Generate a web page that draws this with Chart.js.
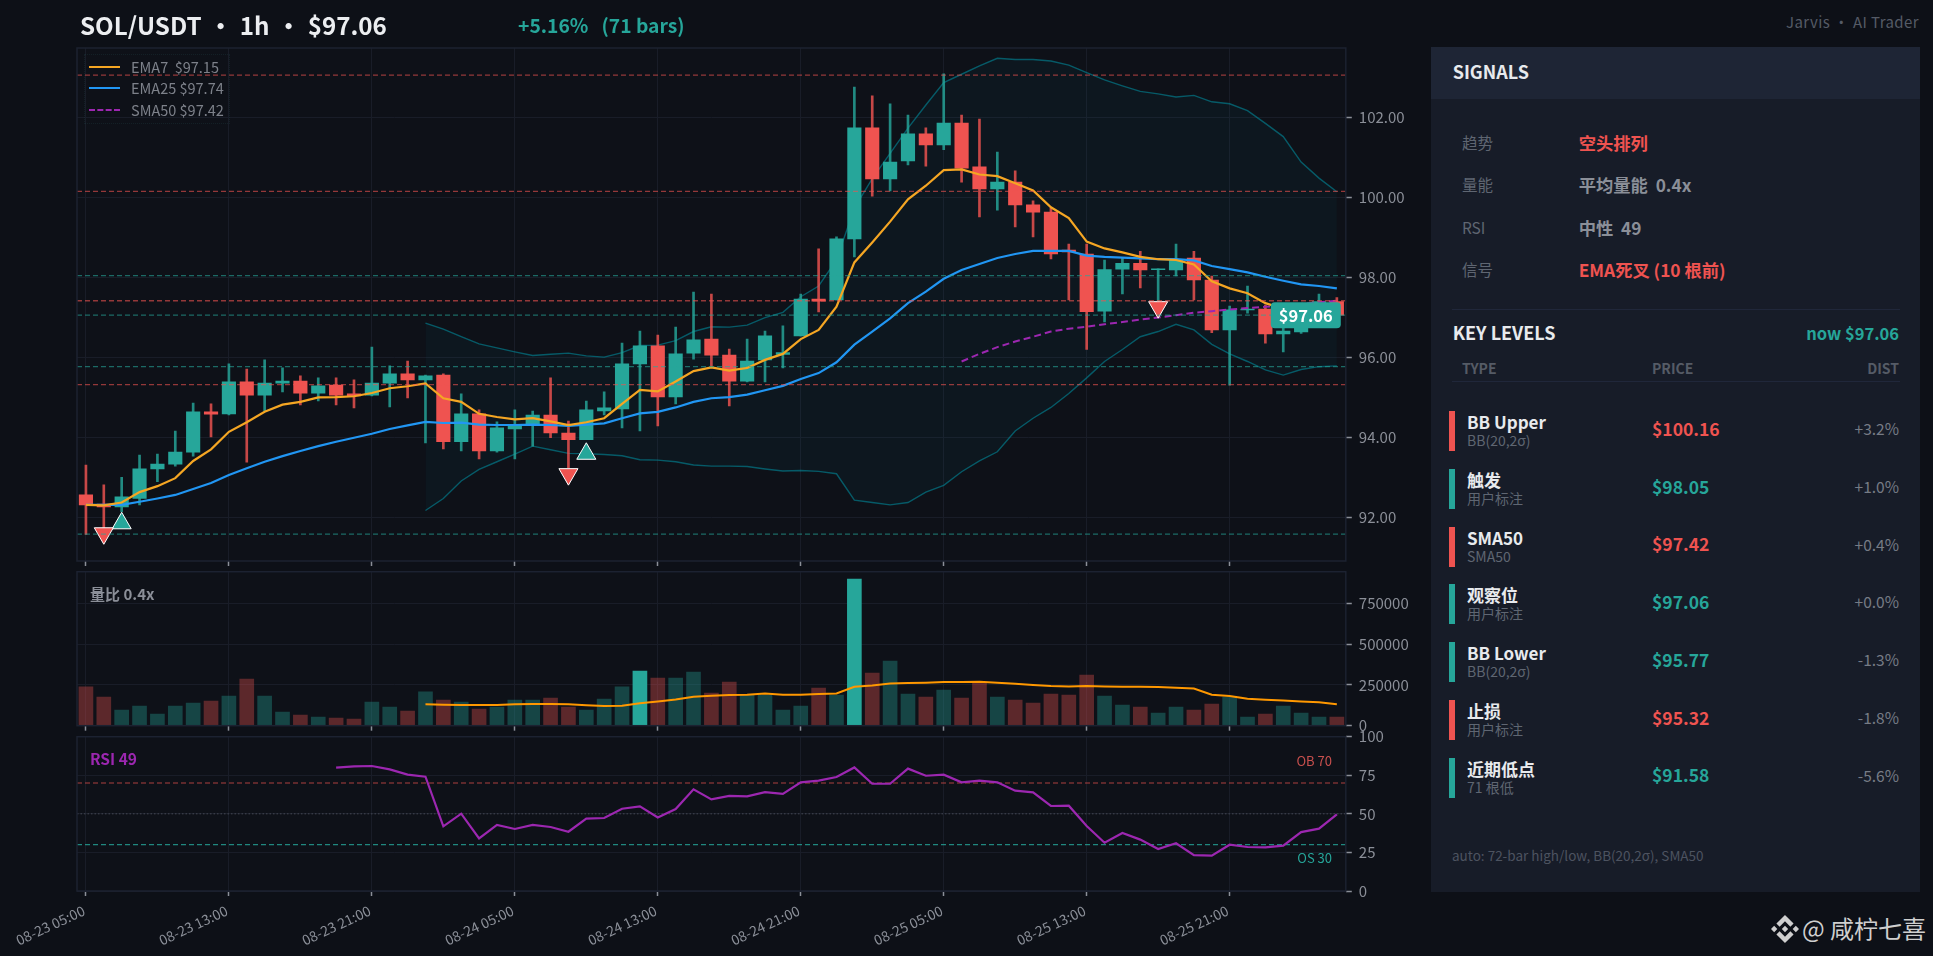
<!DOCTYPE html>
<html><head><meta charset="utf-8">
<script src="https://cdn.jsdelivr.net/npm/chart.js@4/dist/chart.umd.min.js"></script>
<style>
html,body{margin:0;padding:0;background:#0d1017;width:1933px;height:956px;overflow:hidden;font-family:"Noto Sans CJK SC","Noto Sans",sans-serif}
canvas{position:absolute;left:0}
.t{position:absolute;white-space:pre;line-height:1;transform:translateY(-50%)}
.r{transform:translate(-100%,-50%)}
#panel{position:absolute;left:1431px;top:47px;width:489px;height:845px;background:#171c28}
#phead{position:absolute;left:1431px;top:47px;width:489px;height:52px;background:#1e2535}
.bar{position:absolute;left:1449px;width:6px}
.hr{position:absolute;left:1452px;width:448px;height:1px;background:#20273a}
</style></head><body>
<canvas id="c1" width="1420" height="568" style="top:0"></canvas>
<canvas id="c2" width="1420" height="165" style="top:566px"></canvas>
<canvas id="c3" width="1420" height="225" style="top:731px"></canvas>
<div id="panel"></div><div id="phead"></div><div id="ov"></div>
<script>
const categories=["08-23 05:00","08-23 06:00","08-23 07:00","08-23 08:00","08-23 09:00","08-23 10:00","08-23 11:00","08-23 12:00","08-23 13:00","08-23 14:00","08-23 15:00","08-23 16:00","08-23 17:00","08-23 18:00","08-23 19:00","08-23 20:00","08-23 21:00","08-23 22:00","08-23 23:00","08-24 00:00","08-24 01:00","08-24 02:00","08-24 03:00","08-24 04:00","08-24 05:00","08-24 06:00","08-24 07:00","08-24 08:00","08-24 09:00","08-24 10:00","08-24 11:00","08-24 12:00","08-24 13:00","08-24 14:00","08-24 15:00","08-24 16:00","08-24 17:00","08-24 18:00","08-24 19:00","08-24 20:00","08-24 21:00","08-24 22:00","08-24 23:00","08-25 00:00","08-25 01:00","08-25 02:00","08-25 03:00","08-25 04:00","08-25 05:00","08-25 06:00","08-25 07:00","08-25 08:00","08-25 09:00","08-25 10:00","08-25 11:00","08-25 12:00","08-25 13:00","08-25 14:00","08-25 15:00","08-25 16:00","08-25 17:00","08-25 18:00","08-25 19:00","08-25 20:00","08-25 21:00","08-25 22:00","08-25 23:00","08-26 00:00","08-26 01:00","08-26 02:00","08-26 03:00"];
const opens=[92.56,92.33,92.26,92.47,93.21,93.33,93.63,94.64,94.59,95.39,95.06,95.36,95.41,95.11,95.31,95.09,95.06,95.36,95.59,95.44,95.56,93.89,94.59,93.66,94.21,94.31,94.56,94.11,93.94,94.66,94.71,95.84,96.29,95.01,96.11,96.46,96.06,95.41,95.94,96.08,96.54,97.46,97.44,98.97,101.75,100.47,100.92,101.6,101.32,101.87,100.77,100.22,100.39,99.82,99.64,98.69,98.59,97.16,98.21,98.36,98.2,98.19,98.49,97.94,96.69,97.19,97.21,96.59,96.64,97.0,97.4];
const highs=[93.31,92.81,93.0,93.56,93.58,94.16,94.86,94.84,95.84,95.71,95.94,95.74,95.54,95.49,95.49,95.44,96.26,95.79,95.91,95.56,95.59,95.09,94.69,94.39,94.69,94.66,95.49,94.41,94.91,95.14,96.36,96.66,96.56,96.76,97.64,97.59,96.21,96.46,96.66,96.79,97.59,98.72,99.02,102.77,102.55,102.35,102.07,101.75,103.1,102.07,101.97,101.14,100.67,99.92,99.74,98.84,98.84,98.44,98.49,98.66,98.22,98.84,98.66,98.04,97.29,97.79,97.31,97.1,97.1,97.59,97.5];
const lows=[91.57,91.7,92.14,92.31,92.89,93.28,93.53,94.01,94.56,93.38,94.66,95.14,94.81,94.91,94.81,94.74,95.04,94.76,94.99,93.86,93.71,93.66,93.46,93.63,93.46,93.78,93.99,93.24,93.94,94.56,94.24,94.16,94.29,94.84,95.96,95.79,94.79,95.39,95.39,95.74,96.54,97.14,97.44,98.52,100.04,100.17,100.82,100.79,101.2,100.39,99.52,99.69,99.27,99.02,98.47,97.44,96.2,96.89,97.59,97.74,97.4,98.04,97.44,96.62,95.31,97.11,96.36,96.14,96.6,96.9,96.95];
const closes=[92.31,92.26,92.51,93.21,93.33,93.63,94.64,94.58,95.39,95.06,95.36,95.41,95.11,95.29,95.06,95.04,95.36,95.59,95.44,95.54,93.89,94.59,93.66,94.24,94.31,94.56,94.11,93.94,94.69,94.74,95.84,96.29,95.01,96.09,96.44,96.06,95.41,95.91,96.54,96.12,97.46,97.41,98.97,101.75,100.47,100.89,101.6,101.32,101.87,100.74,100.22,100.39,99.82,99.64,98.59,98.64,97.15,98.2,98.36,98.19,98.22,98.46,97.94,96.69,97.19,97.21,96.59,96.66,97.0,97.4,97.06];
const ema7=[92.31,92.3,92.37,92.63,92.78,92.98,93.41,93.7,94.14,94.38,94.64,94.82,94.89,95.0,95.01,95.03,95.11,95.23,95.28,95.35,94.98,94.89,94.59,94.51,94.45,94.48,94.4,94.31,94.38,94.48,94.84,95.19,95.15,95.4,95.66,95.75,95.67,95.74,95.94,96.09,96.46,96.69,97.27,98.38,98.88,99.4,99.96,100.3,100.69,100.71,100.58,100.54,100.36,100.18,99.76,99.49,98.9,98.73,98.63,98.52,98.46,98.44,98.33,97.91,97.73,97.61,97.36,97.22,97.16,97.18,97.15];
const ema25=[92.31,92.31,92.31,92.39,92.47,92.56,92.71,92.86,93.06,93.23,93.39,93.53,93.66,93.78,93.89,93.99,94.09,94.21,94.3,94.39,94.36,94.37,94.32,94.31,94.31,94.32,94.31,94.29,94.32,94.35,94.48,94.6,94.64,94.75,94.89,94.98,95.01,95.07,95.18,95.29,95.46,95.61,95.88,96.32,96.65,96.98,97.36,97.65,97.97,98.19,98.34,98.49,98.59,98.67,98.67,98.67,98.55,98.52,98.5,98.48,98.46,98.46,98.43,98.29,98.21,98.13,98.02,97.92,97.83,97.79,97.73];
const sma50=[null,null,null,null,null,null,null,null,null,null,null,null,null,null,null,null,null,null,null,null,null,null,null,null,null,null,null,null,null,null,null,null,null,null,null,null,null,null,null,null,null,null,null,null,null,null,null,null,null,95.9,96.09,96.26,96.4,96.52,96.65,96.72,96.77,96.83,96.89,96.95,97.0,97.06,97.12,97.16,97.2,97.24,97.27,97.3,97.34,97.38,97.42];
const bbUpper=[null,null,null,null,null,null,null,null,null,null,null,null,null,null,null,null,null,null,null,96.86,96.71,96.52,96.34,96.24,96.14,96.05,96.08,96.11,96.04,96.01,96.12,96.3,96.31,96.42,96.65,96.77,96.76,96.81,97.0,97.13,97.52,97.79,98.44,99.74,100.48,101.11,101.74,102.32,102.88,103.09,103.3,103.49,103.46,103.46,103.42,103.32,103.13,102.95,102.8,102.66,102.6,102.52,102.56,102.4,102.35,102.18,101.86,101.53,100.89,100.49,100.15];
const bbLower=[null,null,null,null,null,null,null,null,null,null,null,null,null,null,null,null,null,null,null,92.17,92.47,92.91,93.2,93.39,93.58,93.78,93.69,93.6,93.59,93.57,93.54,93.44,93.43,93.39,93.31,93.28,93.28,93.27,93.21,93.16,93.17,93.15,93.09,92.43,92.37,92.31,92.37,92.63,92.8,93.14,93.41,93.64,94.16,94.48,94.75,95.1,95.49,95.9,96.2,96.52,96.65,96.83,96.69,96.33,96.09,95.9,95.69,95.56,95.7,95.77,95.79];
const volumes=[238000,176000,96000,121000,71000,121000,139000,151000,182000,286000,182000,84000,65000,53000,47000,41000,145000,114000,90000,207000,157000,145000,102000,114000,157000,157000,170000,114000,96000,163000,238000,335000,292000,292000,329000,200000,268000,188000,188000,96000,121000,231000,188000,899000,322000,396000,194000,176000,219000,170000,268000,176000,157000,139000,194000,188000,311000,182000,127000,114000,78000,114000,96000,133000,176000,53000,71000,121000,78000,53000,53000];
const volMA=[null,null,null,null,null,null,null,null,null,null,null,null,null,null,null,null,null,null,null,131000,129000,127000,127000,127000,131000,133000,133000,131000,125000,121000,123000,137000,149000,161000,178000,184000,188000,190000,198000,190000,190000,194000,198000,239000,247000,259000,261000,264000,268000,268000,270000,264000,257000,249000,243000,241000,243000,241000,239000,239000,237000,233000,228000,190000,182000,165000,159000,155000,149000,143000,131000];
const rsi=[null,null,null,null,null,null,null,null,null,null,null,null,null,null,79.9,80.8,81,78.8,75.4,74.1,41.9,50.1,34.1,42.8,40.2,42.8,41.5,38.4,46.9,47.3,53.3,54.9,47.7,53.1,65.9,59.4,61.6,61.3,64.1,62.9,70.4,71.5,73.9,80.1,69.5,69.5,79.3,74.7,75.4,70.4,71.5,70.4,65,63.9,55.1,55.3,42.1,31.3,37.6,33.3,27.2,30.9,23.3,22.9,30,28.5,28.3,29.4,38.2,40.4,49.7];
const spikeBars=[31,43];
const sellIdx=[1,27,60], sellVal=[91.6,93.08,97.26];
const buyIdx=[2,28], buyVal=[91.85,93.59];
const priceLevels=[103.07,100.16,98.05,97.42,97.06,95.77,95.32,91.58];
const levelKinds=["r","r","g","r","g","g","r","g"];
const lastPrice=97.06;
const priceTicks=[92,94,96,98,100,102];
const volTicks=[0,250000,500000,750000];
const rsiTicks=[0,25,50,75,100];

const RED="#ef5350",GRN="#26a69a",GRID="#191d28",BOX="#1c2231",TICK="#8b8f98",TXT="#8b8f98";
const FONT='"Noto Sans CJK SC","Noto Sans",sans-serif';
const rgba=(c,a)=>c===RED?`rgba(239,83,80,${a})`:`rgba(38,166,154,${a})`;
const isUp=i=>closes[i]>=opens[i];
const RIGHT=1345.8, WID=1420;

const sparse=(idx,val)=>categories.map((_,i)=>{const k=idx.indexOf(i);return k<0?null:val[k]});

function xAxis(h,showLabels){return{
  type:'category',offset:true,
  afterBuildTicks(s){s.ticks=s.ticks.filter(t=>t.value%8===0)},
  afterFit(s){s.height=h;s.paddingLeft=0;s.paddingRight=0},
  grid:{color:GRID,lineWidth:1,tickColor:TICK,tickLength:5,tickWidth:1.5,offset:false,drawTicks:true},
  border:{display:false},
  ticks:{display:showLabels,autoSkip:false,minRotation:25,maxRotation:25,padding:6,labelOffset:-2,color:TXT,font:{family:FONT,size:14}}
}}
function yAxis(min,max,tickVals,fmt){return{
  position:'right',min,max,
  afterBuildTicks(s){s.ticks=tickVals.map(v=>({value:v}))},
  afterFit(s){s.width=WID-RIGHT;s.paddingTop=0;s.paddingBottom=0},
  grid:{color:GRID,lineWidth:1,tickColor:TICK,tickLength:6,tickWidth:1.5},
  border:{display:false},
  ticks:{padding:7,color:TXT,font:{family:FONT,size:15},callback:fmt}
}}
const boxPlugin={id:'box',beforeDraw(ch){const a=ch.chartArea,c=ch.ctx;c.save();c.fillStyle='#0e1118';c.fillRect(a.left,a.top,a.width,a.height);c.restore()},
  afterDraw(ch){const a=ch.chartArea,c=ch.ctx;c.save();c.strokeStyle=BOX;c.lineWidth=1.5;c.strokeRect(a.left,a.top,a.width,a.height);c.restore()}};
function hline(ch,v,color,dash,w){const a=ch.chartArea,c=ch.ctx,y=ch.scales.y.getPixelForValue(v);c.save();c.strokeStyle=color;c.lineWidth=w||1.2;c.setLineDash(dash);c.beginPath();c.moveTo(a.left,y);c.lineTo(a.right,y);c.stroke();c.restore()}
const base={responsive:false,animation:false,devicePixelRatio:1,events:[],datasets:{bar:{grouped:false}},
  plugins:{legend:{display:false},tooltip:{enabled:false}}};
const ln=(data,color,w,extra)=>Object.assign({type:'line',data,borderColor:color,borderWidth:w,pointRadius:0,tension:0,fill:false,spanGaps:false},extra||{});

new Chart(document.getElementById('c1'),{type:'bar',
 data:{labels:categories,datasets:[
  ln(bbUpper,'rgba(0,150,167,0.55)',1.4,{order:20,fill:'+1',backgroundColor:'rgba(0,188,212,0.04)'}),
  ln(bbLower,'rgba(0,150,167,0.55)',1.4,{order:20}),
  {data:categories.map((_,i)=>[lows[i],highs[i]]),backgroundColor:categories.map((_,i)=>rgba(isUp(i)?GRN:RED,.82)),barThickness:2,order:15},
  {data:categories.map((_,i)=>[opens[i],closes[i]]),backgroundColor:categories.map((_,i)=>isUp(i)?GRN:RED),barThickness:13.5,order:14},
  ln(sma50,'#9c27b0',2,{order:8,borderDash:[7,4]}),
  ln(ema25,'#2196f3',2.2,{order:7}),
  ln(ema7,'#f5a623',2.2,{order:6}),
  {type:'line',data:sparse(sellIdx,sellVal),showLine:false,pointStyle:'triangle',pointRotation:180,pointRadius:11,pointBackgroundColor:RED,pointBorderColor:'#fff',pointBorderWidth:1,order:2},
  {type:'line',data:sparse(buyIdx,buyVal),showLine:false,pointStyle:'triangle',pointRadius:11,pointBackgroundColor:GRN,pointBorderColor:'#fff',pointBorderWidth:1,order:2}
 ]},
 options:Object.assign({},base,{layout:{autoPadding:false,padding:{left:77,top:48,right:0,bottom:0}},
  scales:{x:xAxis(7,false),y:yAxis(90.906,103.747,priceTicks,v=>v.toFixed(2))}}),
 plugins:[boxPlugin,{id:'lv',afterDatasetsDraw(ch){
   priceLevels.forEach((v,i)=>hline(ch,v,rgba(levelKinds[i]==='r'?RED:GRN,.6),[5,3],1.3));
   const a=ch.chartArea,c=ch.ctx,y=ch.scales.y.getPixelForValue(lastPrice),w=70,h=26,x=a.right-5-w;
   c.save();c.fillStyle=GRN;c.beginPath();c.roundRect(x,y-h/2,w,h,4);c.fill();
   c.fillStyle='#fff';c.font='600 16.5px '+FONT;c.textAlign='center';c.textBaseline='middle';c.fillText('$'+lastPrice.toFixed(2),x+w/2,y+.5);c.restore();
 }}]
});
new Chart(document.getElementById('c2'),{type:'bar',
 data:{labels:categories,datasets:[
  {data:volumes,backgroundColor:categories.map((_,i)=>spikeBars.includes(i)?rgba(GRN,1):rgba(isUp(i)?GRN:RED,.35)),barThickness:14,order:5},
  ln(volMA,'#ff9800',2,{order:1})
 ]},
 options:Object.assign({},base,{layout:{autoPadding:false,padding:{left:77,top:5.7,right:0,bottom:0}},
  scales:{x:xAxis(5.3,false),y:yAxis(0,944000,volTicks,v=>String(v))}}),
 plugins:[boxPlugin]
});
new Chart(document.getElementById('c3'),{type:'line',
 data:{labels:categories,datasets:[ln(rsi,'#9c27b0',2.2)]},
 options:Object.assign({},base,{layout:{autoPadding:false,padding:{left:77,top:5.7,right:0,bottom:0}},
  scales:{x:xAxis(65,true),y:yAxis(0,100,rsiTicks,v=>String(v))}}),
 plugins:[boxPlugin,{id:'rl',beforeDatasetsDraw(ch){
   hline(ch,70,rgba(RED,.7),[5,3],1.2);hline(ch,30,rgba(GRN,.8),[5,3],1.2);hline(ch,50,'rgba(139,143,152,.4)',[1.5,2],1);
 }}]
});

/* overlay text */
const ov=document.getElementById('ov');
function T(s,x,y,size,color,weight,right){const d=document.createElement('div');d.className='t'+(right?' r':'');d.textContent=s;
 d.style.cssText=`left:${x}px;top:${y}px;font-size:${size}px;color:${color};font-weight:${weight||400}`;ov.appendChild(d);return d}
function box(cls,x,y,w,h,bg){const d=document.createElement('div');d.className=cls;d.style.cssText=`${x!=null?'left:'+x+'px;':''}top:${y}px;${w?'width:'+w+'px;':''}height:${h}px;${bg?'background:'+bg:''}`;ov.appendChild(d)}
T('SOL/USDT · 1h · $97.06',80,25,24.2,'#eceef1',700).style.wordSpacing='1.5px';
T('+5.16%   (71 bars)',518,25.5,19.3,'#26a69a',700);
T('Jarvis · AI Trader',1919,21,15,'#555b66',400,true).style.letterSpacing='.4px';
/* legend */
const lg=document.createElement('div');lg.style.cssText='position:absolute;left:84px;top:54px;width:146px;height:70px;border:1px dotted rgba(38,80,80,.25);box-sizing:border-box';ov.appendChild(lg);
[['EMA7  $97.15','#f5a623',66.7,0],['EMA25 $97.74','#2196f3',88,0],['SMA50 $97.42','#9c27b0',110,1]].forEach(r=>{
 const l=document.createElement('div');l.style.cssText=`position:absolute;left:89px;top:${r[2]-1}px;width:31px;height:0;border-top:2px ${r[3]?'dashed':'solid'} ${r[1]}`;ov.appendChild(l);
 T(r[0],131,r[2],14.5,'#7d818a',400)});
T('量比 0.4x',90,593,15,TXT,700);
T('RSI 49',90,759,15.5,'#9c27b0',700);
T('OB 70',1332,760,13,'#c9504e',400,true);
T('OS 30',1332,857,13,'#26a69a',400,true);
/* side panel */
T('SIGNALS',1452.7,71,18,'#e8eaed',700);
[['趋势','空头排列',RED,143],['量能','平均量能  0.4x',TXT,185],['RSI','中性  49',TXT,227.5],['信号','EMA死叉 (10 根前)',RED,269.5]].forEach(r=>{
 T(r[0],1462,r[3],15.5,'#5f6672');T(r[1],1578.7,r[3],17.3,r[2],700)});
box('hr',null,309,0,1);
T('KEY LEVELS',1452.7,332,18,'#e8eaed',700);
T('now $97.06',1899,332.5,16.5,GRN,700,true);
T('TYPE',1462,368,14,'#555b66',700);T('PRICE',1652,368,14,'#555b66',700);T('DIST',1899,368,14,'#555b66',700,true);
box('hr',null,381,0,1);
[['BB Upper','BB(20,2σ)','$100.16','+3.2%',RED,411],['触发','用户标注','$98.05','+1.0%',GRN,469],['SMA50','SMA50','$97.42','+0.4%',RED,526.5],['观察位','用户标注','$97.06','+0.0%',GRN,584],['BB Lower','BB(20,2σ)','$95.77','-1.3%',GRN,642],['止损','用户标注','$95.32','-1.8%',RED,700],['近期低点','71 根低','$91.58','-5.6%',GRN,757.5]].forEach(r=>{
 box('bar',null,r[5],0,40,r[4]);
 T(r[0],1467,r[5]+10,17,'#e8eaed',700);T(r[1],1467,r[5]+29,14,'#5f6672');
 T(r[2],1652,r[5]+17.5,17.5,r[4],700);T(r[3],1899,r[5]+18,15.5,'#767b85',400,true)});
T('auto: 72-bar high/low, BB(20,2σ), SMA50',1452,856,13.5,'#4d5360');
/* watermark */
const wm=document.createElement('div');wm.style.cssText='position:absolute;left:1771px;top:915px;width:28px;height:28px';
wm.innerHTML='<svg viewBox="0 0 24 24" width="28" height="28"><path fill="#cfcfcf" d="M16.624 13.92l2.717 2.716-7.353 7.353-7.353-7.352 2.717-2.717 4.636 4.66 4.636-4.66zm4.637-4.636L24 12l-2.715 2.716L18.568 12l2.693-2.716zm-9.272 0l2.716 2.692-2.717 2.717L9.272 12l2.716-2.692zm-9.273 0L5.41 12l-2.692 2.692L0 12l2.716-2.716zM11.99.01l7.352 7.33-2.717 2.715-4.636-4.636-4.636 4.66-2.717-2.716L11.989.011z"/></svg>';ov.appendChild(wm);
T('@ 咸柠七喜',1802,928,24,'#cfcfcf');
</script></body></html>
